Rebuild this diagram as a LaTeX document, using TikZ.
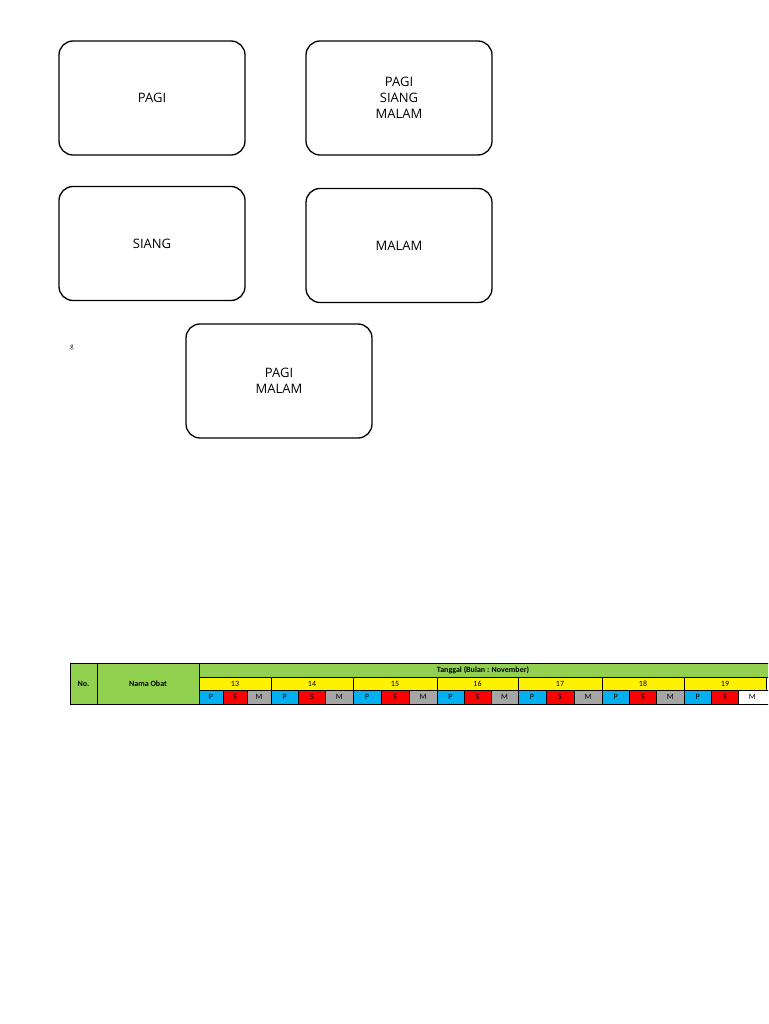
\documentclass[tikz,border=0pt]{standalone}
\usepackage{fontspec}
\setmainfont{Open Sans}
\newfontfamily\tabfont{Carlito}
\definecolor{xgreen}{HTML}{92D050}
\definecolor{xblue}{HTML}{00B0F0}
\definecolor{xgray}{HTML}{A6A6A6}
\begin{document}
\begin{tikzpicture}[x=1pt,y=-1pt,
  box/.style={draw,line width=1.3pt,rounded corners=14pt,minimum width=186pt,minimum height=114pt,align=center,font=\fontsize{13}{16}\selectfont},
  cell/.style={draw,line width=0.6pt,font=\tabfont\fontsize{8}{9}\selectfont}]
\useasboundingbox (0,0) rectangle (768,1024);
\clip (0,0) rectangle (768,1024);
\node[box] (b1) at (152,98) {PAGI};
\node[box] (b2) at (399,98) {PAGI\\SIANG\\MALAM};
\node[box] (b3) at (152,243.5) {SIANG};
\node[box] (b4) at (399,245.5) {MALAM};
\node[box] (b5) at (279,381) {PAGI\\MALAM};
\node[font=\fontsize{6}{7}\selectfont\rmfamily] (g) at (72,348) {g};
% table
\filldraw[cell,fill=xgreen] (70,663) rectangle (97,704);
\node[font=\tabfont\bfseries\fontsize{8}{9}\selectfont] (no) at (83.5,684) {No.};
\filldraw[cell,fill=xgreen] (97,663) rectangle (199,704);
\node[font=\tabfont\bfseries\fontsize{8}{9}\selectfont] (nm) at (148,684) {Nama Obat};
\filldraw[cell,fill=xgreen] (199,663) rectangle (800,677);
\node[font=\tabfont\bfseries\fontsize{8}{9}\selectfont] (tg) at (483,670) {Tanggal (Bulan : November)};
\foreach \a/\b/\d/\last in {199/271/13/0,271/353/14/0,353/437/15/0,437/518/16/0,518/602/17/0,602/684/18/0,684/766/19/1}{
  \filldraw[cell,fill=yellow] (\a,677) rectangle (\b,690);
  \node[font=\tabfont\fontsize{8}{9}\selectfont] at ({(\a+\b)/2},683.5) {\d};
  \pgfmathsetmacro\wa{(\b-\a)/3}
  \filldraw[cell,fill=xblue] (\a,690) rectangle ({\a+\wa},704);
  \node[font=\tabfont\fontsize{8}{9}\selectfont] at ({\a+\wa/2},697) {P};
  \filldraw[cell,fill=red] ({\a+\wa},690) rectangle ({\a+2*\wa},704);
  \node[font=\tabfont\fontsize{8}{9}\selectfont] at ({\a+1.5*\wa},697) {S};
  \ifnum\last=1
    \filldraw[cell,fill=white] ({\a+2*\wa},690) rectangle (800,704);
  \else
    \filldraw[cell,fill=xgray] ({\a+2*\wa},690) rectangle (\b,704);
  \fi
  \node[font=\tabfont\fontsize{8}{9}\selectfont] at ({\a+2.5*\wa},697) {M};
}
\end{tikzpicture}
\end{document}
